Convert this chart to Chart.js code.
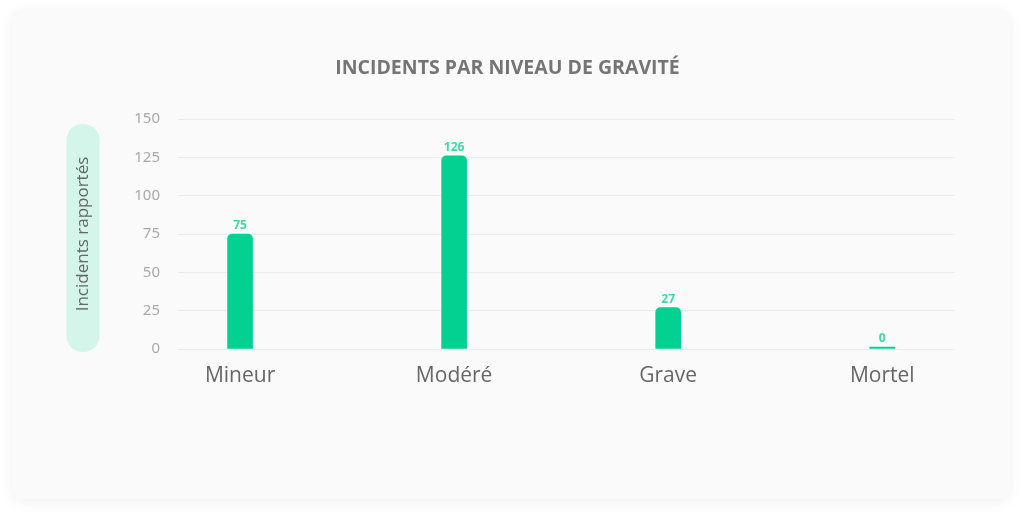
<!DOCTYPE html>
<html lang="fr">
<head>
<meta charset="utf-8">
<title>Incidents par niveau de gravité</title>
<script src="https://cdn.jsdelivr.net/npm/chart.js@4/dist/chart.umd.min.js"></script>
<style>
  html, body { margin: 0; padding: 0; background: #ffffff; }
  body { width: 1024px; height: 518px; position: relative; overflow: hidden; }
  .card {
    position: absolute; left: 12px; top: 9px; width: 998px; height: 490px;
    background: #fafafa; border-radius: 10px;
    box-shadow: 0 3px 14px rgba(0, 0, 0, 0.06);
  }
  #chart { position: absolute; left: 0; top: 0; }
</style>
</head>
<body>
<div class="card"></div>
<canvas id="chart" width="1024" height="518"></canvas>
<script>
// Data
const categories = ['Mineur', 'Modéré', 'Grave', 'Mortel'];
const incidents = [75, 126, 27, 0];
const yTicks = [0, 25, 50, 75, 100, 125, 150];

const barColor = '#03d192';
const labelColor = '#3cdba6';

// pill behind the y axis title
const pillPlugin = {
  id: 'pill',
  beforeDraw(chart) {
    const { ctx, chartArea } = chart;
    const y = chart.scales.y;
    const cx = y.left + 23;
    const w = 33, h = 228;
    const cy = (chartArea.top + chartArea.bottom) / 2 + 4;
    ctx.save();
    ctx.fillStyle = '#d3f5ea';
    ctx.beginPath();
    ctx.roundRect(cx - w / 2, cy - h / 2, w, h, 16);
    ctx.fill();
    ctx.restore();
  }
};

// values above bars
const valueLabels = {
  id: 'valueLabels',
  afterDatasetsDraw(chart) {
    const { ctx } = chart;
    const meta = chart.getDatasetMeta(0);
    ctx.save();
    ctx.font = 'bold 12px "Open Sans", sans-serif';
    ctx.fillStyle = labelColor;
    ctx.textAlign = 'center';
    ctx.textBaseline = 'alphabetic';
    meta.data.forEach((bar, i) => {
      const top = Math.min(bar.y, bar.base - 2);
      ctx.fillText(String(incidents[i]), bar.x, top - 5);
    });
    ctx.restore();
  }
};

const ctx = document.getElementById('chart').getContext('2d');

new Chart(ctx, {
  type: 'bar',
  data: {
    datasets: [{
      data: categories.map((c, i) => ({ x: i, y: incidents[i] })),
      backgroundColor: barColor,
      borderRadius: { topLeft: 5, topRight: 5 },
      borderSkipped: 'bottom',
      barThickness: 25,
      minBarLength: 2
    }]
  },
  options: {
    responsive: false,
    animation: false,
    layout: { padding: { left: 60, right: 69, top: 10, bottom: 119 } },
    plugins: {
      legend: { display: false },
      tooltip: { enabled: false },
      title: {
        display: true,
        text: 'INCIDENTS PAR NIVEAU DE GRAVITÉ',
        color: '#757575',
        font: { family: '"Open Sans", sans-serif', size: 19.5, weight: 'bold' },
        padding: { top: 46.3, bottom: 39.3 }
      }
    },
    scales: {
      x: {
        type: 'linear',
        offset: false,
        min: -0.29,
        max: 3.34,
        grid: { display: false },
        border: { display: false },
        afterBuildTicks(scale) {
          scale.ticks = categories.map((c, i) => ({ value: i }));
        },
        ticks: {
          autoSkip: false,
          maxRotation: 0,
          padding: 6,
          color: '#666666',
          font: { family: '"Open Sans", sans-serif', size: 21 },
          callback: (v) => categories[v] ?? ''
        },
        afterFit(scale) { scale.height = 50; }
      },
      y: {
        min: 0,
        max: 150,
        afterBuildTicks(scale) {
          scale.ticks = yTicks.map(v => ({ value: v }));
        },
        grid: { color: '#e9edf0', lineWidth: 1, drawTicks: false },
        border: { display: false },
        ticks: {
          padding: 18,
          color: '#a9a9a9',
          font: { family: '"Noto Sans", sans-serif', size: 15 }
        },
        title: {
          display: true,
          text: 'Incidents rapportés',
          color: '#666666',
          font: { family: '"Open Sans", sans-serif', size: 17 },
          padding: { top: 13, bottom: 0 }
        },
        afterFit(scale) { scale.width = 118; }
      }
    }
  },
  plugins: [pillPlugin, valueLabels]
});
</script>
</body>
</html>
